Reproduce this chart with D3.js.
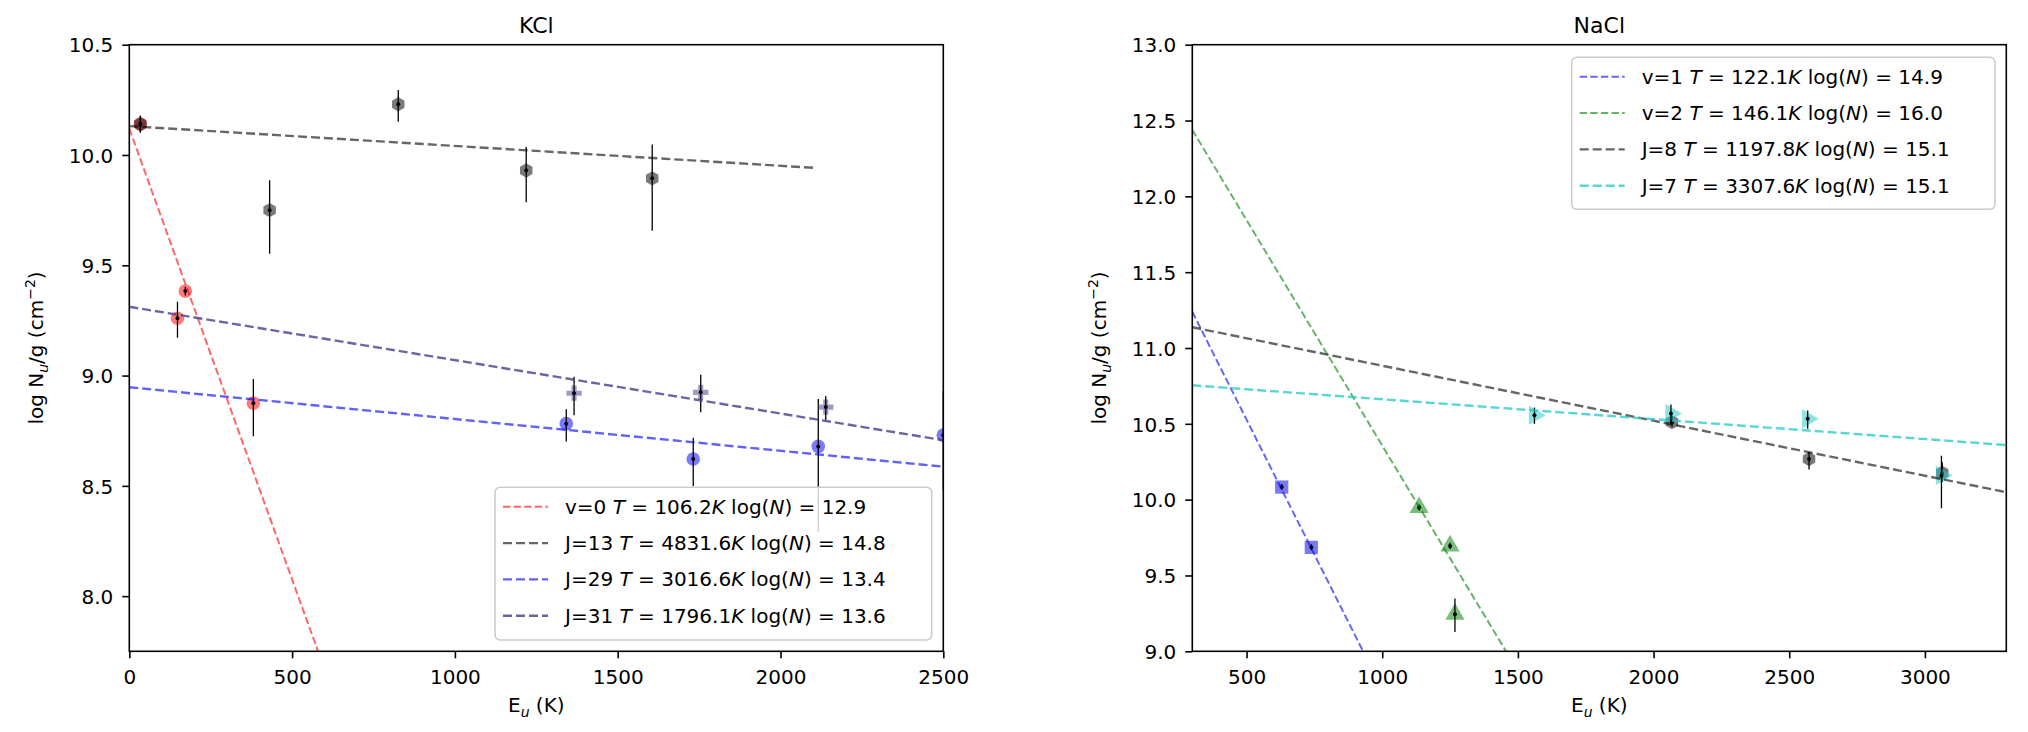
<!DOCTYPE html>
<html>
<head>
<meta charset="utf-8">
<script src="https://d3js.org/d3.v7.min.js"></script>
<style>
  body { margin: 0; background: #fff; }
  svg { display: block; font-family: "DejaVu Sans", sans-serif; }
</style>
</head>
<body>
<svg id="chart" width="2028" height="732"></svg>
<script>
// ---- data: [Eu (K), log Nu/g, err down, err up] ----
const kclV0 = [
    [34, 10.14, 0.038, 0.038],
    [148, 9.26, 0.088, 0.075],
    [172, 9.383, 0.02, 0.02],
    [381, 8.875, 0.15, 0.11]
];
const kclJ13 = [
    [34, 10.14, 0.038, 0.038],
    [431, 9.75, 0.198, 0.136],
    [826, 10.23, 0.079, 0.065],
    [1219, 9.93, 0.144, 0.106],
    [1606, 9.894, 0.237, 0.154]
];
const kclJ29 = [
    [1342, 8.782, 0.081, 0.065],
    [1732, 8.622, 0.123, 0.096],
    [2116, 8.679, 0.387, 0.215],
    [2500, 8.73, 0.25, 0.2]
];
const kclJ31 = [
    [1366, 8.92, 0.1, 0.075],
    [1755, 8.924, 0.09, 0.08],
    [2139, 8.857, 0.06, 0.05]
];

const naclV1 = [
    [629.5, 10.083, 0.02, 0.02],
    [738.6, 9.686, 0.02, 0.02]
];
const naclV2 = [
    [1136, 9.948, 0.02, 0.02],
    [1250, 9.695, 0.02, 0.02],
    [1268, 9.245, 0.117, 0.103]
];
const naclJ8 = [
    [2068, 10.511, 0.03, 0.04],
    [2573, 10.268, 0.07, 0.045],
    [3064, 10.176, 0.06, 0.07]
];
const naclJ7 = [
    [1561, 10.557, 0.057, 0.05],
    [2064, 10.568, 0.06, 0.06],
    [2568, 10.533, 0.066, 0.055],
    [3061, 10.16, 0.216, 0.13]
];

// fitted rotational-diagram lines: [[E0, y0], [E1, y1]]
const kclFits = [
    [[0, 10.12], [600, 7.667]],
    [[0, 10.131], [2100, 9.942]],
    [[0, 8.947], [2500, 8.587]],
    [[0, 9.312], [2500, 8.707]]
];
const naclFits = [
    [[300, 11.239], [1000, 8.749]],
    [[300, 12.438], [1500, 8.870]],
    [[300, 11.137], [3300, 10.049]],
    [[300, 10.754], [3300, 10.36]]
];

// legend entries: [name, T, log(N)]
const kclLabels = [["v=0", "106.2", "12.9"], ["J=13", "4831.6", "14.8"], ["J=29", "3016.6", "13.4"], ["J=31", "1796.1", "13.6"]];
const naclLabels = [["v=1", "122.1", "14.9"], ["v=2", "146.1", "16.0"], ["J=8", "1197.8", "15.1"], ["J=7", "3307.6", "15.1"]];

// ticks
const kclXTicks = [0, 500, 1000, 1500, 2000, 2500];
const kclYTicks = [8.0, 8.5, 9.0, 9.5, 10.0, 10.5];
const naclXTicks = [500, 1000, 1500, 2000, 2500, 3000];
const naclYTicks = [9.0, 9.5, 10.0, 10.5, 11.0, 11.5, 12.0, 12.5, 13.0];

// ---- styles ----
const kclStyle = [
    { color: "#ff0000", marker: "circle", lineOp: 0.6, lw: 2 },
    { color: "#000000", marker: "hexagon", lineOp: 0.6, lw: 2.4 },
    { color: "#0000ff", marker: "circle", lineOp: 0.62, lw: 2.4 },
    { color: "#483d8b", marker: "plus", lineOp: 0.8, lw: 2.4 }
];
const naclStyle = [
    { color: "#0000ee", marker: "square", lineOp: 0.6, lw: 2 },
    { color: "#008000", marker: "triangle", lineOp: 0.6, lw: 2 },
    { color: "#000000", marker: "hexagon", lineOp: 0.6, lw: 2.4 },
    { color: "#20c8c8", marker: "right", lineOp: 0.75, lw: 2.4 }
];

const svg = d3.select("#chart");
const plotTop = 44.7, plotBottom = 651.3;

function markerPath(kind) {
    if (kind === "circle") return d3.symbol(d3.symbolCircle, 145)();
    if (kind === "square") return d3.symbol(d3.symbolSquare, 175)();
    if (kind === "triangle") return d3.symbol(d3.symbolTriangle, 160)();
    if (kind === "right") return d3.symbol(d3.symbolTriangle, 160)();
    if (kind === "plus") return d3.symbol(d3.symbolCross, 130)();
    // pointy-top hexagon
    const r = 7.2;
    const pts = d3.range(6).map(i => {
        const a = (-90 + 60 * i) * Math.PI / 180;
        return [r * Math.cos(a), r * Math.sin(a)];
    });
    return "M" + pts.map(p => p.join(",")).join("L") + "Z";
}

function legendText(sel, name, T, logN) {
    sel.append("tspan").text(name + " ");
    sel.append("tspan").style("font-style", "italic").text("T");
    sel.append("tspan").text(" = " + T);
    sel.append("tspan").style("font-style", "italic").text("K");
    sel.append("tspan").text(" log(");
    sel.append("tspan").style("font-style", "italic").text("N");
    sel.append("tspan").text(") = " + logN);
}

function panel(opt) {
    const x = d3.scaleLinear().domain(opt.xDomain).range([opt.left, opt.right]);
    const y = d3.scaleLinear().domain(opt.yDomain).range([plotBottom, plotTop]);
    const g = svg.append("g");

    const clipId = "clip-" + opt.id;
    svg.append("clipPath").attr("id", clipId)
        .append("rect")
        .attr("x", opt.left).attr("y", plotTop)
        .attr("width", opt.right - opt.left).attr("height", plotBottom - plotTop);

    const plot = g.append("g").attr("clip-path", "url(#" + clipId + ")");

    // points with error bars
    opt.series.forEach((data, i) => {
        const st = opt.styles[i];
        const sg = plot.append("g");
        sg.selectAll("path.mk")
            .data(data)
            .enter()
            .append("path")
            .attr("class", "mk")
            .attr("d", markerPath(st.marker))
            .attr("transform", d => "translate(" + x(d[0]) + "," + y(d[1]) + ")" + (st.marker === "right" ? "rotate(90)" : ""))
            .style("fill", st.color)
            .style("fill-opacity", 0.52);
        sg.selectAll("line.err")
            .data(data)
            .enter()
            .append("line")
            .attr("x1", d => x(d[0]))
            .attr("x2", d => x(d[0]))
            .attr("y1", d => y(d[1] - d[2]))
            .attr("y2", d => y(d[1] + d[3]))
            .style("stroke", "#000")
            .style("stroke-width", 1.3);
        sg.selectAll("circle.dot")
            .data(data)
            .enter()
            .append("circle")
            .attr("cx", d => x(d[0]))
            .attr("cy", d => y(d[1]))
            .attr("r", 2)
            .style("fill", "#000");
    });

    // fit lines
    const line = d3.line().x(d => x(d[0])).y(d => y(d[1]));
    opt.fits.forEach((f, i) => {
        const st = opt.styles[i];
        plot.append("path")
            .datum(f)
            .attr("d", line)
            .style("fill", "none")
            .style("stroke", st.color)
            .style("stroke-opacity", st.lineOp)
            .style("stroke-width", st.lw)
            .style("stroke-dasharray", st.lw > 2.2 ? "9,4" : "7.4,3.2");
    });

    // axes
    const xAxis = g.append("g")
        .attr("transform", "translate(0," + plotBottom + ")")
        .call(d3.axisBottom(x).tickValues(opt.xTicks).tickSize(7).tickFormat(d3.format("d")));
    xAxis.selectAll("text").attr("y", 33).attr("dy", null);

    const yAxis = g.append("g")
        .attr("transform", "translate(" + opt.left + ",0)")
        .call(d3.axisLeft(y).tickValues(opt.yTicks).tickSize(7).tickFormat(d3.format(".1f")));
    yAxis.selectAll("text").attr("x", -16).attr("dy", "0.36em");

    [xAxis, yAxis].forEach(a => {
        a.select(".domain").remove();
        a.selectAll("line").style("stroke", "#000").style("stroke-width", 1.6);
        a.selectAll("text").style("font-size", "20px").style("fill", "#000")
            .style("font-family", "DejaVu Sans");
    });

    // frame
    g.append("rect")
        .attr("x", opt.left).attr("y", plotTop)
        .attr("width", opt.right - opt.left).attr("height", plotBottom - plotTop)
        .style("fill", "none").style("stroke", "#000").style("stroke-width", 1.6);

    const cx = (opt.left + opt.right) / 2;

    // title
    g.append("text")
        .attr("x", cx).attr("y", plotTop - 12)
        .attr("text-anchor", "middle")
        .style("font-size", "22px")
        .text(opt.title);

    // x label
    const xl = g.append("text")
        .attr("x", cx).attr("y", 712)
        .attr("text-anchor", "middle")
        .style("font-size", "20px");
    xl.append("tspan").text("E");
    xl.append("tspan").attr("dy", 5).style("font-size", "14px").style("font-style", "italic").text("u");
    xl.append("tspan").attr("dy", -5).text(" (K)");

    // y label
    const yl = g.append("text")
        .attr("transform", "translate(" + (opt.left - 86) + "," + ((plotTop + plotBottom) / 2) + ")rotate(-90)")
        .attr("text-anchor", "middle")
        .style("font-size", "20px");
    yl.append("tspan").text("log N");
    yl.append("tspan").attr("dy", 5).style("font-size", "14px").style("font-style", "italic").text("u");
    yl.append("tspan").attr("dy", -5).text("/g (cm");
    yl.append("tspan").attr("dy", -8).style("font-size", "14px").text("\u22122");
    yl.append("tspan").attr("dy", 8).text(")");

    // legend
    const lg = g.append("g");
    lg.append("rect")
        .attr("x", opt.legend.x).attr("y", opt.legend.y)
        .attr("width", opt.legend.w).attr("height", opt.legend.h)
        .attr("rx", 5)
        .style("fill", "#fff").style("fill-opacity", 0.8)
        .style("stroke", "#cccccc").style("stroke-width", 1.6);
    opt.labels.forEach((lab, i) => {
        const st = opt.styles[i];
        const ry = opt.legend.y + 19.5 + i * 36.3;
        lg.append("line")
            .attr("x1", opt.legend.x + 8).attr("x2", opt.legend.x + 53)
            .attr("y1", ry).attr("y2", ry)
            .style("stroke", st.color)
            .style("stroke-opacity", st.lineOp)
            .style("stroke-width", st.lw)
            .style("stroke-dasharray", st.lw > 2.2 ? "9,4" : "7.4,3.2");
        const t = lg.append("text")
            .attr("x", opt.legend.x + 70).attr("y", ry + 7)
            .style("font-size", "20px");
        legendText(t, lab[0], lab[1], lab[2]);
    });
}

panel({
    id: "kcl", title: "KCl",
    left: 129.3, right: 943.3,
    xDomain: [0, 2500], yDomain: [7.75, 10.5],
    xTicks: kclXTicks, yTicks: kclYTicks,
    series: [kclV0, kclJ13, kclJ29, kclJ31],
    fits: kclFits, styles: kclStyle, labels: kclLabels,
    legend: { x: 495, y: 487.3, w: 436.7, h: 152.7 }
});

panel({
    id: "nacl", title: "NaCl",
    left: 1192.3, right: 2006.3,
    xDomain: [300, 3300], yDomain: [9, 13],
    xTicks: naclXTicks, yTicks: naclYTicks,
    series: [naclV1, naclV2, naclJ8, naclJ7],
    fits: naclFits, styles: naclStyle, labels: naclLabels,
    legend: { x: 1571.7, y: 57.3, w: 423.3, h: 152 }
});
</script>
</body>
</html>
